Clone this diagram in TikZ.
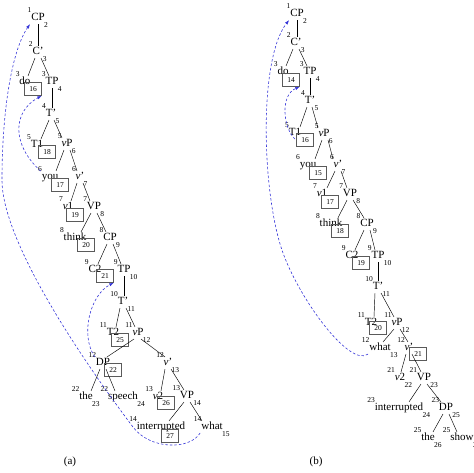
\documentclass[tikz,border=0pt]{standalone}
\usepackage{fontspec}
\setmainfont{Liberation Serif}
\usepackage{xcolor}
\usepackage{tikz}
\usetikzlibrary{arrows.meta,positioning}
\definecolor{MoveBlue}{HTML}{3535D8}
\definecolor{BoxGray}{HTML}{5A5A5A}
\tikzset{
  cat/.style={
    inner sep=1pt,
    font=\fontsize{11}{13}\selectfont,
    text height=7.5pt,
    text depth=2.2pt
  },
  idx/.style={inner sep=0pt, font=\fontsize{7.5}{8}\selectfont},
  hi/.style={idx, xshift=1.5pt, yshift=-1.2pt},
  lo/.style={idx, xshift=-2pt, yshift=2pt},
  trbox/.style={
    draw=BoxGray,
    line width=0.5pt,
    minimum width=17pt,
    minimum height=13pt,
    inner sep=0pt,
    font=\fontsize{7.5}{8}\selectfont
  },
  branch/.style={line width=0.45pt},
  move/.style={MoveBlue, line width=0.6pt, dash pattern=on 2.5pt off 2pt,
    -{Latex[length=4.5pt,width=3.2pt]}}
}

\begin{document}
\begin{tikzpicture}[x=1pt, y=-1pt]
\useasboundingbox (0,0) rectangle (474,473);
% tree (a)
\node[cat, label={[hi]north west:1}, label={[lo]south east:2}] (cpA) at (38,18) {CP};
\node[cat, label={[hi]north west:2}, label={[lo]south east:3}] (cbA) at (38,52) {C'};
\node[cat, label={[hi]north west:3}] (doA) at (25,82) {do};
\node[cat, label={[hi]north west:3}, label={[lo]south east:4}] (tpA) at (52,82) {TP};
\node[cat, label={[hi]north west:4}, label={[lo]south east:5}] (tbA) at (51,114) {T'};
\node[cat, label={[hi]north west:5}] (t1A) at (37,145) {T1};
\node[cat, label={[hi]north west:5}, label={[lo]south east:6}] (vpA) at (67,144) {\textit{v}P};
\node[cat, label={[hi]north west:6}] (youA) at (50,177) {you};
\node[cat, label={[hi]north west:6}, label={[lo]south east:7}] (vbA) at (80,177) {\textit{v}'};
\node[cat, label={[hi]north west:7}] (v1A) at (68,207) {\textit{v}1};
\node[cat, label={[hi]north west:7}, label={[lo]south east:8}] (vpbA) at (94,207) {VP};
\node[cat, label={[hi]north west:8}] (thinkA) at (75,238) {think};
\node[cat, label={[hi]north west:8}, label={[lo]south east:9}] (cp2A) at (110,238) {CP};
\node[cat, label={[hi]north west:9}] (c2A) at (95,270) {C2};
\node[cat, label={[hi]north west:9}, label={[lo]south east:10}] (tp2A) at (124,270) {TP};
\node[cat, label={[hi]north west:10}, label={[lo]south east:11}] (tb2A) at (123,302) {T'};
\node[cat, label={[hi]north west:11}] (t2A) at (113,333) {T2};
\node[cat, label={[hi]north west:11}, label={[lo]south east:12}] (vp2A) at (138,333) {\textit{v}P};
\node[cat, label={[hi]north west:12}] (dpA) at (103,363) {DP};
\node[cat, label={[hi]north west:12}, label={[lo]south east:13}] (vb2A) at (168,363) {\textit{v}'};
\node[cat, label={[hi]north west:22}, label={[lo]south east:23}] (theA) at (86,397) {the};
\node[cat, label={[hi]north west:22}, label={[lo]south east:24}] (speechA) at (123,397) {speech};
\node[cat, label={[hi]north west:13}] (v2A) at (158,397) {\textit{v}2};
\node[cat, label={[hi]north west:13}, label={[lo]south east:14}] (vp3A) at (187,396) {VP};
\node[cat, label={[hi]north west:14}] (intA) at (161,427) {interrupted};
\node[cat, label={[hi]north west:14}, label={[lo]south east:15}] (whatA) at (212,427) {what};
\node[trbox] (b16A) at (33,89) {16};
\node[trbox] (b18A) at (47,152) {18};
\node[trbox] (b17A) at (60,185) {17};
\node[trbox] (b19A) at (75,215) {19};
\node[trbox] (b20A) at (86,245) {20};
\node[trbox] (b21A) at (105,276) {21};
\node[trbox] (b25A) at (120,340) {25};
\node[trbox] (b22A) at (113,370) {22};
\node[trbox] (b26A) at (166,403) {26};
\node[trbox] (b27A) at (170,436) {27};
\draw[branch] (cpA.south) -- (cpA.south |- cbA.north);
\draw[branch] ([xshift=-3pt]cbA.south) -- ([xshift=3pt]doA.north);
\draw[branch] ([xshift=3pt]cbA.south) -- ([xshift=-3pt]tpA.north);
\draw[branch] (tpA.south) -- (tpA.south |- tbA.north);
\draw[branch] ([xshift=-2pt]tbA.south) -- ([xshift=4pt]t1A.north);
\draw[branch] ([xshift=3pt]tbA.south) -- ([xshift=-5pt]vpA.north);
\draw[branch] ([xshift=-3pt]vpA.south) -- ([xshift=6pt]youA.north);
\draw[branch] ([xshift=3pt]vpA.south) -- ([xshift=-3pt]vbA.north);
\draw[branch] ([xshift=-3pt]vbA.south) -- ([xshift=3pt]v1A.north);
\draw[branch] ([xshift=3pt]vbA.south) -- ([xshift=-4pt]vpbA.north);
\draw[branch] ([xshift=-3pt]vpbA.south) -- ([xshift=6pt]thinkA.north);
\draw[branch] ([xshift=3pt]vpbA.south) -- ([xshift=-4pt]cp2A.north);
\draw[branch] ([xshift=-3pt]cp2A.south) -- ([xshift=3pt]c2A.north);
\draw[branch] ([xshift=3pt]cp2A.south) -- ([xshift=-3pt]tp2A.north);
\draw[branch] (tp2A.south) -- (tp2A.south |- tb2A.north);
\draw[branch] ([xshift=-3pt]tb2A.south) -- ([xshift=3pt]t2A.north);
\draw[branch] ([xshift=3pt]tb2A.south) -- ([xshift=-3pt]vp2A.north);
\draw[branch] ([xshift=-4pt]vp2A.south) -- ([xshift=4pt]dpA.north);
\draw[branch] ([xshift=3pt]vp2A.south) -- ([xshift=-3pt]vb2A.north);
\draw[branch] ([xshift=-3pt]dpA.south) -- ([xshift=5pt]theA.north);
\draw[branch] ([xshift=3pt]dpA.south) -- ([xshift=-8pt]speechA.north);
\draw[branch] ([xshift=-3pt]vb2A.south) -- ([xshift=3pt]v2A.north);
\draw[branch] ([xshift=3pt]vb2A.south) -- ([xshift=-3pt]vp3A.north);
\draw[branch] ([xshift=-3pt]vp3A.south) -- ([xshift=8pt]intA.north);
\draw[branch] ([xshift=3pt]vp3A.south) -- ([xshift=-10pt]whatA.north);
% movements (a)
\draw[move] (whatA.south west) .. controls (190,450) and (150,450) .. (133,427)
  .. controls (105,390) and (2,250) .. (2,180)
  .. controls (2,110) and (12,50) .. (cpA.south west);
\draw[move] (youA.north west) .. controls (12,145) and (12,112) .. (b16A.south east);
\draw[move] (dpA.north west) .. controls (80,335) and (90,295) .. (b21A.south east);
% tree (b)
\node[cat, label={[hi]north west:1}, label={[lo]south east:2}] (cpB) at (297,14) {CP};
\node[cat, label={[hi]north west:2}, label={[lo]south east:3}] (cbB) at (296,43) {C'};
\node[cat, label={[hi]north west:3}] (doB) at (283,72) {do};
\node[cat, label={[hi]north west:3}, label={[lo]south east:4}] (tpB) at (310,72) {TP};
\node[cat, label={[hi]north west:4}, label={[lo]south east:5}] (tbB) at (310,101) {T'};
\node[cat, label={[hi]north west:5}] (t1B) at (295,133) {T1};
\node[cat, label={[hi]north west:5}, label={[lo]south east:6}] (vpB) at (324,134) {\textit{v}P};
\node[cat, label={[hi]north west:6}] (youB) at (308,165) {you};
\node[cat, label={[hi]north west:6}, label={[lo]south east:7}] (vbB) at (338,165) {\textit{v}'};
\node[cat, label={[hi]north west:7}] (v1B) at (322,194) {\textit{v}1};
\node[cat, label={[hi]north west:7}, label={[lo]south east:8}] (vpbB) at (350,194) {VP};
\node[cat, label={[hi]north west:8}] (thinkB) at (331,224) {think};
\node[cat, label={[hi]north west:8}, label={[lo]south east:9}] (cp2B) at (367,224) {CP};
\node[cat, label={[hi]north west:9}] (c2B) at (352,256) {C2};
\node[cat, label={[hi]north west:9}, label={[lo]south east:10}] (tp2B) at (378,256) {TP};
\node[cat, label={[hi]north west:10}, label={[lo]south east:11}] (tb2B) at (378,287) {T'};
\node[cat, label={[hi]north west:11}] (t2B) at (371,323) {T2};
\node[cat, label={[hi]north west:11}, label={[lo]south east:12}] (vp2B) at (397,323) {\textit{v}P};
\node[cat, label={[hi]north west:12}, label={[lo]south east:13}] (whatB) at (380,348) {what};
\node[cat, label={[hi]north west:12}] (vb2B) at (409,348) {\textit{v}'};
\node[cat, label={[hi]north west:21}, label={[lo]south east:22}] (v2B) at (400,378) {\textit{v}2};
\node[cat, label={[hi]north west:21}, label={[lo]south east:23}] (vp3B) at (424,378) {VP};
\node[cat, label={[hi]north west:23}, label={[lo]south east:24}] (intB) at (399,408) {interrupted};
\node[cat, label={[hi]north west:23}, label={[lo]south east:25}] (dpB) at (446,408) {DP};
\node[cat, label={[hi]north west:25}, label={[lo]south east:26}] (theB) at (428,438) {the};
\node[cat, label={[hi]north west:25}, label={[lo]south east:27}] (showB) at (462,438) {show};
\node[trbox] (b14B) at (291,80) {14};
\node[trbox] (b16B) at (305,140) {16};
\node[trbox] (b15B) at (318,173) {15};
\node[trbox] (b17B) at (330,202) {17};
\node[trbox] (b18B) at (340,231) {18};
\node[trbox] (b19B) at (361,263) {19};
\node[trbox] (b20B) at (378,328) {20};
\node[trbox] (b21B) at (418,354) {21};
\draw[branch] (cpB.south) -- (cpB.south |- cbB.north);
\draw[branch] ([xshift=-3pt]cbB.south) -- ([xshift=3pt]doB.north);
\draw[branch] ([xshift=3pt]cbB.south) -- ([xshift=-3pt]tpB.north);
\draw[branch] (tpB.south) -- (tpB.south |- tbB.north);
\draw[branch] ([xshift=-3pt]tbB.south) -- ([xshift=5pt]t1B.north);
\draw[branch] ([xshift=2pt]tbB.south) -- ([xshift=-6pt]vpB.north);
\draw[branch] ([xshift=-2pt]vpB.south) -- ([xshift=7pt]youB.north);
\draw[branch] ([xshift=4pt]vpB.south) -- ([xshift=-5pt]vbB.north);
\draw[branch] ([xshift=-3pt]vbB.south) -- ([xshift=5pt]v1B.north);
\draw[branch] ([xshift=3pt]vbB.south) -- ([xshift=-3pt]vpbB.north);
\draw[branch] ([xshift=-3pt]vpbB.south) -- ([xshift=7pt]thinkB.north);
\draw[branch] ([xshift=3pt]vpbB.south) -- ([xshift=-3pt]cp2B.north);
\draw[branch] ([xshift=-3pt]cp2B.south) -- ([xshift=3pt]c2B.north);
\draw[branch] ([xshift=3pt]cp2B.south) -- ([xshift=-3pt]tp2B.north);
\draw[branch] (tp2B.south) -- (tp2B.south |- tb2B.north);
\draw[branch] ([xshift=-3pt]tb2B.south) -- ([xshift=3pt]t2B.north);
\draw[branch] ([xshift=3pt]tb2B.south) -- ([xshift=-3pt]vp2B.north);
\draw[branch] ([xshift=-3pt]vp2B.south) -- ([xshift=3pt]whatB.north);
\draw[branch] ([xshift=3pt]vp2B.south) -- ([xshift=-1pt]vb2B.north);
\draw[branch] ([xshift=-3pt]vb2B.south) -- ([xshift=1pt]v2B.north);
\draw[branch] ([xshift=3pt]vb2B.south) -- ([xshift=-3pt]vp3B.north);
\draw[branch] ([xshift=-3pt]vp3B.south) -- ([xshift=10pt]intB.north);
\draw[branch] ([xshift=3pt]vp3B.south) -- ([xshift=-5pt]dpB.north);
\draw[branch] ([xshift=-3pt]dpB.south) -- ([xshift=5pt]theB.north);
\draw[branch] ([xshift=3pt]dpB.south) -- ([xshift=-5pt]showB.north);
% movements (b)
\draw[move] (whatB.south west) .. controls (350,368) and (300,300) .. (283,253)
  .. controls (262,195) and (258,60) .. (cpB.south west);
\draw[move] (t1B.south) .. controls (283,128) and (280,95) .. (b14B.south east);
% captions
\node[cat] (capA) at (70,462) {(a)};
\node[cat] (capB) at (316,462) {(b)};
\end{tikzpicture}
\end{document}
